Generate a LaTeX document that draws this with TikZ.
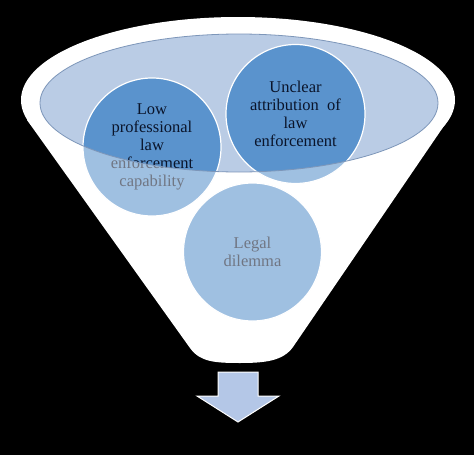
\documentclass[tikz,border=0pt]{standalone}
\usepackage{fontspec}
\setmainfont{Liberation Serif}
\definecolor{mouth}{RGB}{186,204,229}
\definecolor{mouthline}{RGB}{125,150,185}
\definecolor{ballblue}{RGB}{90,147,205}
\definecolor{inktext}{RGB}{10,20,42}
\definecolor{arrowfill}{RGB}{180,199,231}
\tikzset{
  ball/.style={circle, fill=ballblue, draw=white, line width=1.2pt,
    minimum size=138pt, inner sep=0pt, align=center, text=inktext,
    font=\fontsize{16.5}{18}\selectfont},
  veil/.style={white, opacity=0.42},
  funnelbody/.style={white},
  outarrow/.style={draw=white, fill=arrowfill, line width=1pt},
}
\begin{document}
\begin{tikzpicture}[x=1pt,y=-1pt]
\fill[black] (0,0) rectangle (474,455);
\useasboundingbox (0,0) rectangle (474,455);
% funnel body
\fill[funnelbody] (238,100) ellipse[x radius=217, y radius=83];
\fill[funnelbody] (27,120) -- (190,348) .. controls (200,362) and (215,363) .. (240,363)
  .. controls (265,363) and (283,361) .. (293,347) -- (448,120) -- cycle;
% mouth
\fill[mouth] (239,103) ellipse[x radius=199, y radius=69];
% balls
\node[ball] (c1) at (152,147) {Low\\professional\\law\\enforcement\\capability};
\node[ball, minimum size=139pt] (c2) at (295.5,114) {Unclear\\attribution\ \ of\\law\\enforcement};
\node[ball] (c3) at (252.5,252) {Legal\\dilemma};
% veil outside the mouth
\begin{scope}
  \clip (c1.center) circle[radius=69] (c2.center) circle[radius=69.5] (c3.center) circle[radius=69];
  \fill[veil, even odd rule] (0,0) rectangle (474,455) (239,103) ellipse[x radius=199, y radius=69];
\end{scope}
\draw[mouthline, line width=0.8pt] (239,103) ellipse[x radius=199, y radius=69];
% arrow
\draw[outarrow] (218,372) -- (258,372) -- (258,396) -- (279,396) -- (238,422) -- (197,396) -- (218,396) -- cycle;
\end{tikzpicture}
\end{document}
